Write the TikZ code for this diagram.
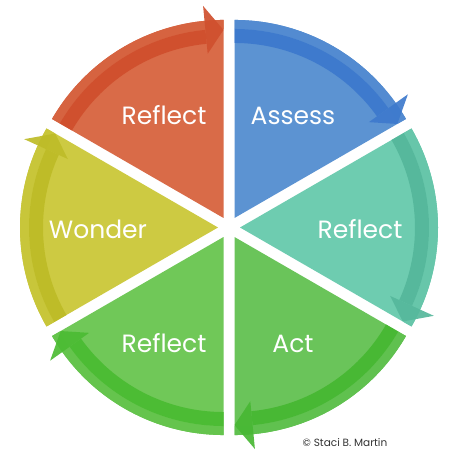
\documentclass[tikz,border=0pt]{standalone}
\usepackage{fontspec}
\setmainfont{Poppins}
\usetikzlibrary{calc}
\definecolor{orF}{HTML}{D96B48}\definecolor{orD}{HTML}{D0502E}
\definecolor{blF}{HTML}{5C93D2}\definecolor{blD}{HTML}{3E7ACD}
\definecolor{teF}{HTML}{6ECCB0}\definecolor{teD}{HTML}{56B89C}
\definecolor{gaF}{HTML}{6AC45A}\definecolor{gaD}{HTML}{48B834}
\definecolor{grF}{HTML}{70C858}\definecolor{grD}{HTML}{4CBC34}
\definecolor{yeF}{HTML}{CDCA42}\definecolor{yeD}{HTML}{BEBC28}
\tikzset{
  lbl/.style={text=white, font=\fontsize{25}{25}\selectfont, anchor=base, inner sep=0pt},
  credit/.style={text=black!80, font=\fontsize{10.5}{10.5}\selectfont, anchor=base, inner sep=0pt}
}
\begin{document}
\begin{tikzpicture}[x=1pt,y=1pt]
\useasboundingbox[fill=white] (0,0) rectangle (457,457);
\coordinate (O) at (229,229.5);
\foreach \b/\fc/\dc/\n in {120/orF/orD/a, 60/blF/blD/b, 0/teF/teD/c, -60/gaF/gaD/d, 240/grF/grD/e, 180/yeF/yeD/f}{
  \coordinate (A\n) at ($(O)+(\b:11)$);
  \fill[\fc] (A\n) -- ($(A\n)+(\b+30:198)$) arc[start angle=\b+30,end angle=\b-30,radius=198] -- cycle;
  \fill[\dc!30!\fc] ($(A\n)+(\b+30:189)$) arc[start angle=\b+30,end angle=\b-30,radius=189]
     -- ($(A\n)+(\b-30:198)$) arc[start angle=\b-30,end angle=\b+30,radius=198] -- cycle;
  \fill[\dc] ($(A\n)+(\b+30:175)$) arc[start angle=\b+30,end angle=\b-24.5,radius=175]
     -- ($(A\n)+(\b-24.5:189)$) arc[start angle=\b-24.5,end angle=\b+30,radius=189] -- cycle;
  \fill[\dc, opacity=0.92] ($(A\n)+(\b-24.5:165)$) -- ($(A\n)+(\b-30:188)$) -- ($(A\n)+(\b-24.5:213)$) -- cycle;
}
\node[lbl] (t1) at (164,332) {Reflect};
\node[lbl] (t2) at (293,332) {Assess};
\node[lbl] (t3) at (360,218) {Reflect};
\node[lbl] (t4) at (293,104) {Act};
\node[lbl] (t5) at (164,104) {Reflect};
\node[lbl] (t6) at (98,218) {Wonder};
\node[credit] (cr) at (345,10) {© Staci B. Martin};
\end{tikzpicture}
\end{document}
